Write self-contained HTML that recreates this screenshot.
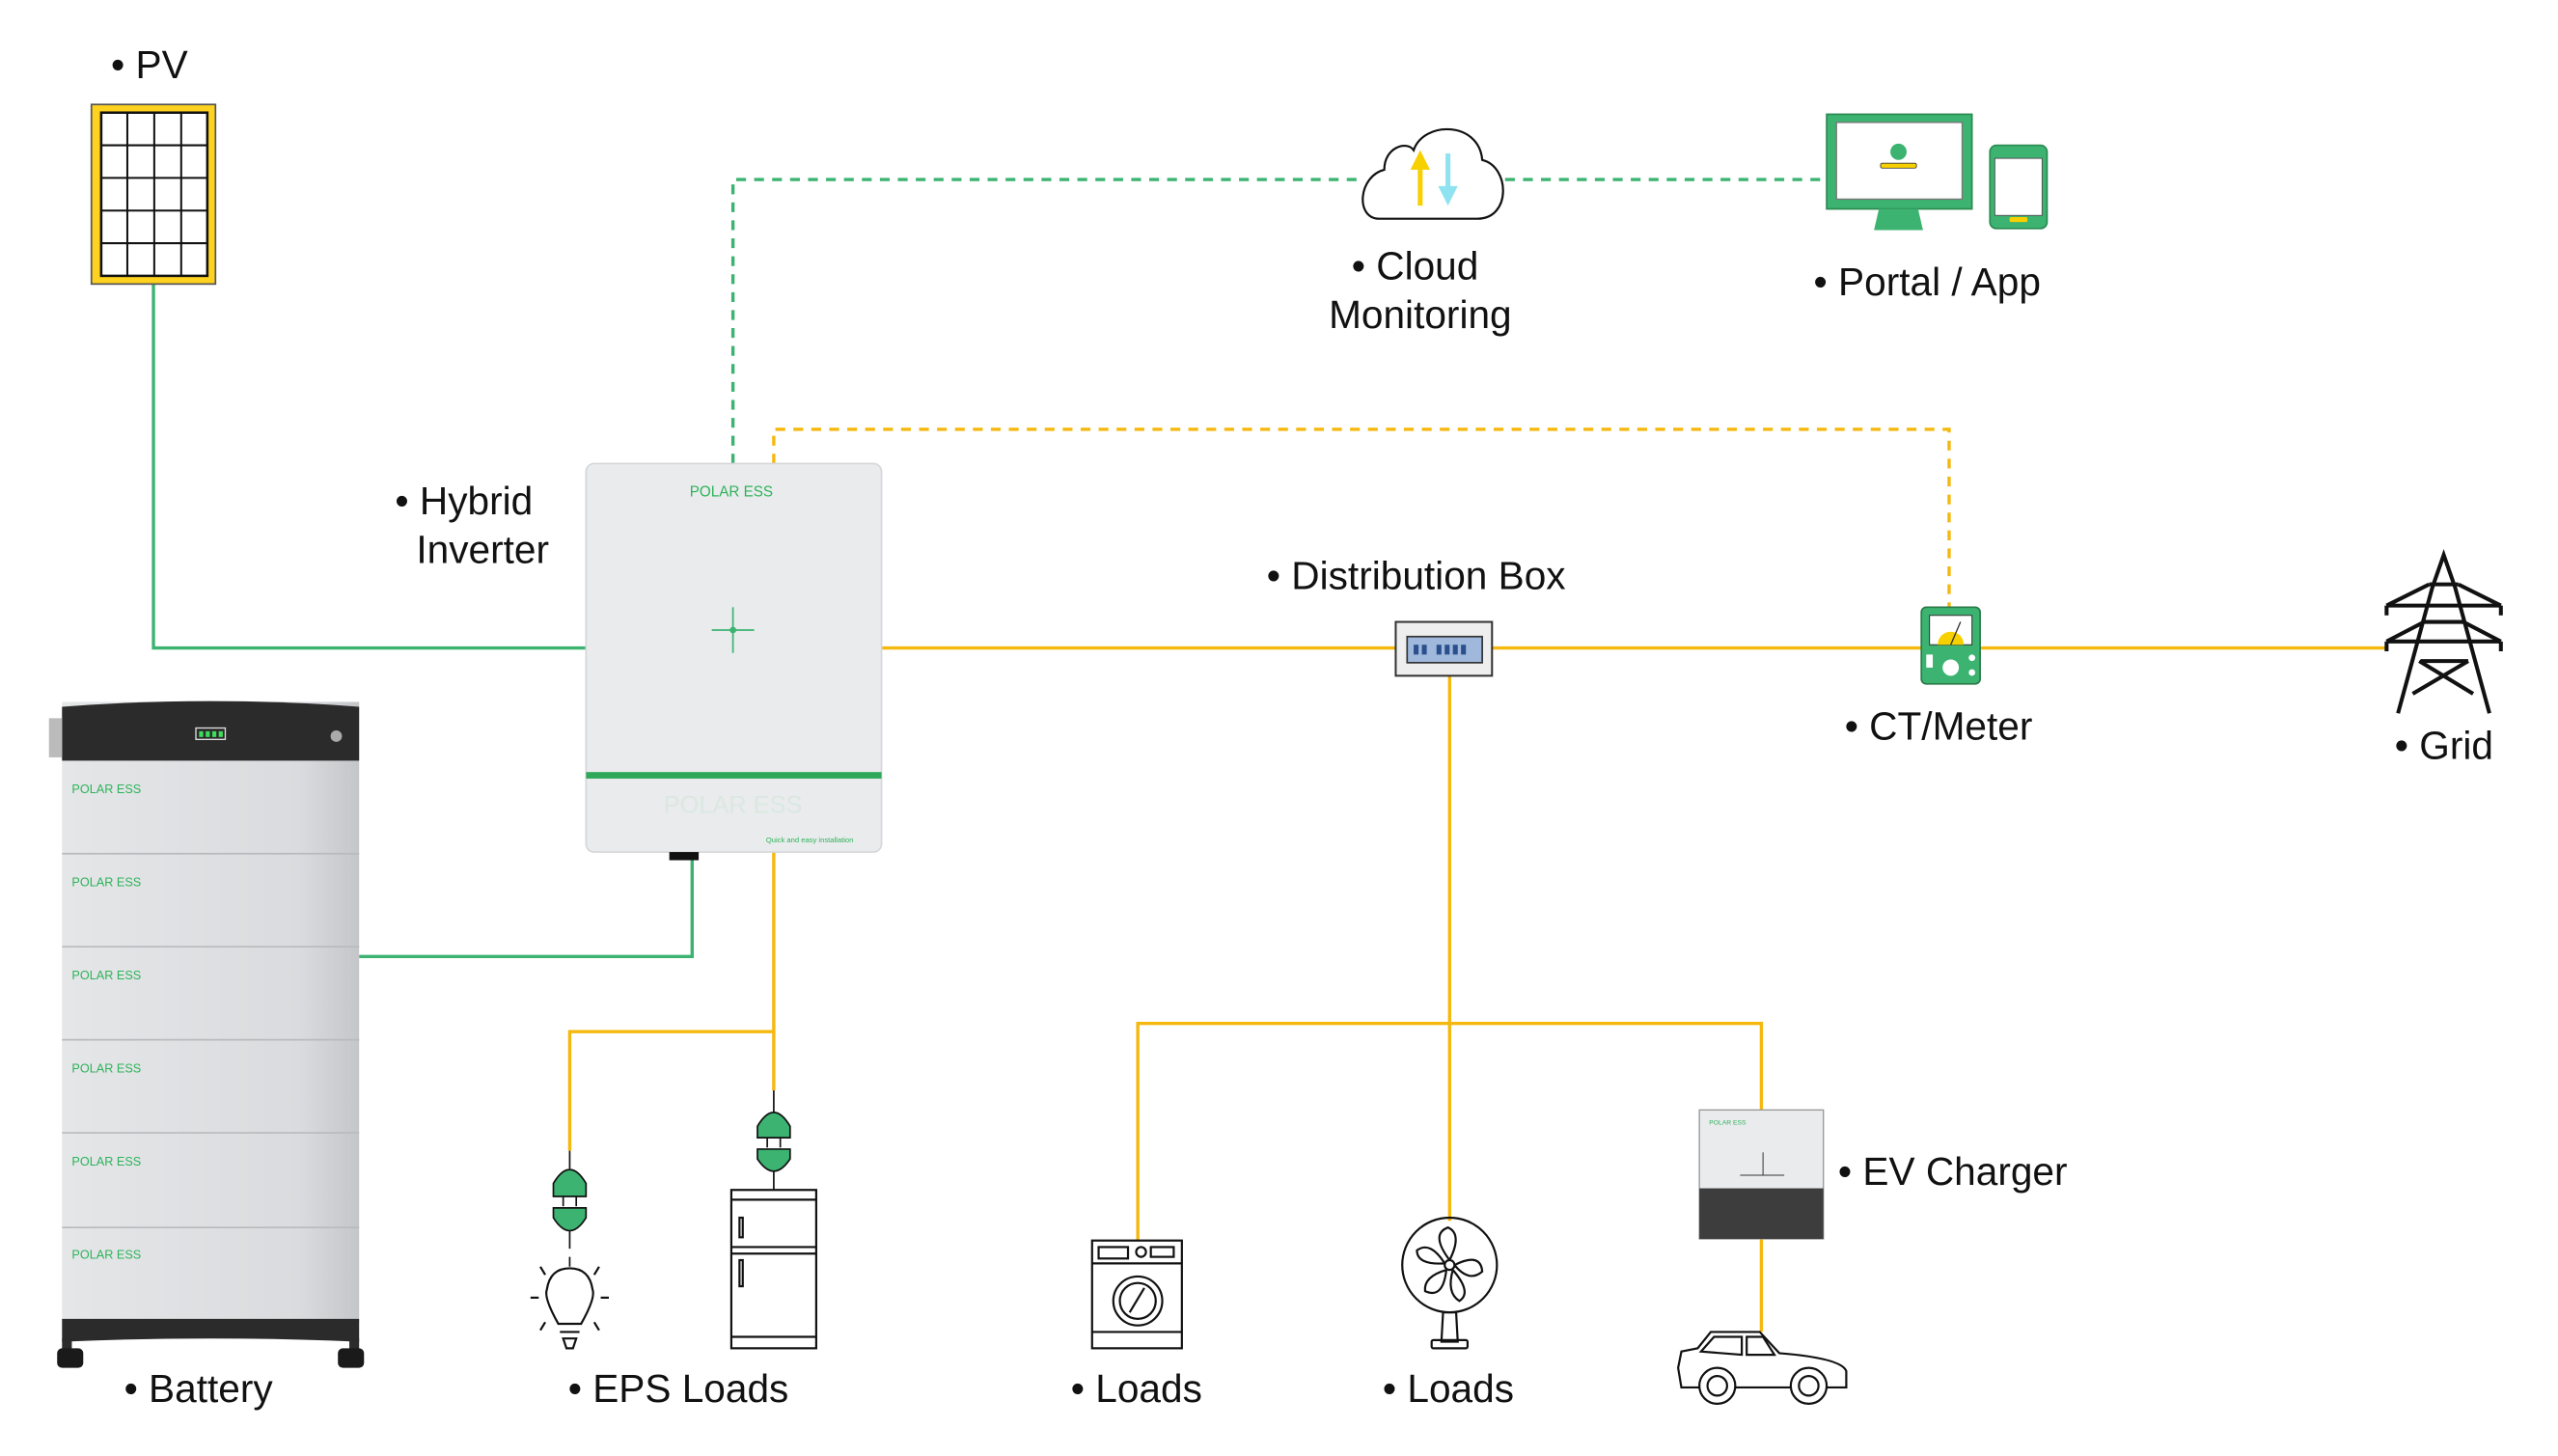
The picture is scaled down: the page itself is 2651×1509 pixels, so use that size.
<!DOCTYPE html>
<html><head><meta charset="utf-8"><style>
html,body{margin:0;padding:0;background:#fff;}
svg{display:block;}
text{font-family:"Liberation Sans",sans-serif;fill:#111;}
</style></head><body>
<svg width="2651" height="1509" viewBox="0 0 1567 892" preserveAspectRatio="none" xmlns="http://www.w3.org/2000/svg">
<defs>
<linearGradient id="bat" x1="0" x2="1"><stop offset="0" stop-color="#e4e6e8"/><stop offset="0.8" stop-color="#d9dbde"/><stop offset="1" stop-color="#c4c6c9"/></linearGradient>
</defs>
<g fill="none" stroke-width="2">
<polyline points="94,174 94,397 359,397" stroke="#3cb371"/>
<polyline points="220,586 424,586 424,527" stroke="#3cb371"/>
<polyline points="449,284 449,110 835,110" stroke="#3cb371" stroke-dasharray="6,5"/>
<line x1="922" y1="110" x2="1119" y2="110" stroke="#3cb371" stroke-dasharray="6,5"/>
<polyline points="474,284 474,263 1194,263 1194,372" stroke="#f5b80f" stroke-dasharray="6,5"/>
<line x1="540" y1="397" x2="1462" y2="397" stroke="#f5b80f"/>
<line x1="888" y1="414" x2="888" y2="748" stroke="#f5b80f"/>
<polyline points="697,760 697,627 1079,627 1079,680" stroke="#f5b80f"/>
<line x1="1079" y1="759" x2="1079" y2="816" stroke="#f5b80f"/>
<polyline points="474,522 474,632 349,632 349,705" stroke="#f5b80f"/>
<line x1="474" y1="632" x2="474" y2="668" stroke="#f5b80f"/>
</g>
<rect x="56" y="64" width="76" height="110" fill="#ffd21f" stroke="#555" stroke-width="1"/>
<rect x="62" y="69" width="65" height="100" fill="#fff" stroke="#111" stroke-width="1.5"/>
<g stroke="#111" stroke-width="1.2"><line x1="78" y1="69" x2="78" y2="169"/><line x1="94.5" y1="69" x2="94.5" y2="169"/><line x1="111" y1="69" x2="111" y2="169"/>
<line x1="62" y1="89" x2="127" y2="89"/><line x1="62" y1="109" x2="127" y2="109"/><line x1="62" y1="129" x2="127" y2="129"/><line x1="62" y1="149" x2="127" y2="149"/></g>
<text x="68" y="48" font-size="24">• PV</text>
<rect x="359" y="284" width="181" height="238" rx="5" fill="#e9ebed" stroke="#d5d7da"/>
<rect x="359" y="473" width="181" height="4" fill="#2fa85a"/>
<text x="448" y="304" font-size="9" text-anchor="middle" style="fill:#2fb35a">POLAR ESS</text>
<text x="449" y="498" font-size="15" text-anchor="middle" style="fill:#dbe8e0">POLAR ESS</text>
<text x="496" y="516" font-size="4.5" text-anchor="middle" style="fill:#2fb35a">Quick and easy installation</text>
<g stroke="#3cb371" stroke-width="1"><line x1="436" y1="386" x2="462" y2="386"/><line x1="449" y1="372" x2="449" y2="400"/></g>
<circle cx="449" cy="386" r="2" fill="#3cb371"/>
<rect x="410" y="522" width="18" height="5" fill="#111"/>
<text x="242" y="315" font-size="24">• Hybrid</text>
<text x="255" y="345" font-size="24">Inverter</text>
<path d="M845,134 C830,134 832,108 848,104 C848,90 862,86 866,92 C872,74 906,74 908,98 C925,102 926,134 905,134 Z" fill="#fff" stroke="#111" stroke-width="1.3"/>
<line x1="870" y1="126" x2="870" y2="100" stroke="#f7d000" stroke-width="3"/><polygon points="864,104 870,92 876,104" fill="#f7d000"/>
<line x1="887" y1="94" x2="887" y2="118" stroke="#8fe3f0" stroke-width="3"/><polygon points="881,114 887,126 893,114" fill="#8fe3f0"/>
<text x="828" y="171" font-size="24">• Cloud</text>
<text x="814" y="201" font-size="24">Monitoring</text>
<rect x="1119" y="70" width="89" height="58" fill="#3cb371" stroke="#2a8a50"/>
<rect x="1125" y="75" width="77" height="47" fill="#fff" stroke="#777" stroke-width="0.8"/>
<polygon points="1151,128 1175,128 1178,141 1148,141" fill="#3cb371"/>
<circle cx="1163" cy="93" r="5" fill="#3cb371"/>
<rect x="1152" y="100" width="22" height="3" rx="1" fill="#f7d000" stroke="#333" stroke-width="0.5"/>
<rect x="1219" y="89" width="35" height="51" rx="4" fill="#3cb371" stroke="#2a8a50"/>
<rect x="1222" y="97" width="29" height="35" fill="#fff" stroke="#555" stroke-width="0.6"/>
<rect x="1231" y="133" width="11" height="3" rx="1" fill="#f7d000"/>
<text x="1111" y="181" font-size="24">• Portal / App</text>
<rect x="855" y="381" width="59" height="33" fill="#eee" stroke="#333" stroke-width="1.2"/>
<rect x="862" y="390" width="46" height="16" fill="#9fb8dc" stroke="#333" stroke-width="1"/>
<g fill="#2b4f8c"><rect x="866" y="395" width="3" height="6"/><rect x="871" y="395" width="3" height="6"/><rect x="880" y="395" width="3" height="6"/><rect x="885" y="395" width="3" height="6"/><rect x="890" y="395" width="3" height="6"/><rect x="895" y="395" width="3" height="6"/></g>
<text x="776" y="361" font-size="24">• Distribution Box</text>
<rect x="1177" y="372" width="36" height="47" rx="3" fill="#3cb371" stroke="#2a7a48"/>
<rect x="1182" y="377" width="26" height="18" fill="#fff" stroke="#333" stroke-width="0.6"/>
<path d="M1187,395 A8,8 0 0 1 1203,395 Z" fill="#f7d000"/>
<line x1="1195" y1="395" x2="1201" y2="381" stroke="#333" stroke-width="0.8"/>
<circle cx="1195" cy="409" r="5" fill="#fff"/><rect x="1180" y="401" width="4" height="8" fill="#fff"/>
<circle cx="1208" cy="403" r="2" fill="#fff"/><circle cx="1208" cy="412" r="2" fill="#fff"/>
<text x="1130" y="453" font-size="24">• CT/Meter</text>
<g fill="none" stroke="#111" stroke-width="2.4">
<polyline points="1469,437 1490,360 1497,340 1504,360 1525,437"/>
<line x1="1462" y1="371" x2="1532" y2="371"/><line x1="1462" y1="371" x2="1462" y2="377"/><line x1="1532" y1="371" x2="1532" y2="377"/>
<line x1="1462" y1="393" x2="1532" y2="393"/><line x1="1462" y1="393" x2="1462" y2="399"/><line x1="1532" y1="393" x2="1532" y2="399"/>
<line x1="1462" y1="371" x2="1488" y2="358"/><line x1="1532" y1="371" x2="1506" y2="358"/>
<line x1="1462" y1="393" x2="1485" y2="381"/><line x1="1532" y1="393" x2="1509" y2="381"/>
<line x1="1488" y1="358" x2="1506" y2="358"/><line x1="1485" y1="381" x2="1509" y2="381"/>
<line x1="1482" y1="405" x2="1515" y2="425"/><line x1="1512" y1="405" x2="1478" y2="425"/><line x1="1483" y1="405" x2="1512" y2="405"/>
</g>
<text x="1467" y="465" font-size="24">• Grid</text>
<rect x="38" y="430" width="182" height="380" fill="url(#bat)"/>
<path d="M38,466 L38,433 Q129,426 220,433 L220,466 Z" fill="#2b2b2b"/>
<rect x="120" y="446" width="18" height="7" fill="none" stroke="#ddd" stroke-width="0.8"/>
<g fill="#3ddc5a"><rect x="122" y="448" width="2.5" height="3.5"/><rect x="126" y="448" width="2.5" height="3.5"/><rect x="130" y="448" width="2.5" height="3.5"/><rect x="134" y="448" width="2.5" height="3.5"/></g>
<circle cx="206" cy="451" r="3.5" fill="#aaa"/>
<rect x="30" y="440" width="8" height="24" fill="#bbb"/>
<g stroke="#b8babd" stroke-width="1"><line x1="38" y1="523" x2="220" y2="523"/><line x1="38" y1="580" x2="220" y2="580"/><line x1="38" y1="637" x2="220" y2="637"/><line x1="38" y1="694" x2="220" y2="694"/><line x1="38" y1="752" x2="220" y2="752"/></g>
<g font-size="7.5"><text x="44" y="486" style="fill:#2fb35a">POLAR ESS</text><text x="44" y="543" style="fill:#2fb35a">POLAR ESS</text><text x="44" y="600" style="fill:#2fb35a">POLAR ESS</text><text x="44" y="657" style="fill:#2fb35a">POLAR ESS</text><text x="44" y="714" style="fill:#2fb35a">POLAR ESS</text><text x="44" y="771" style="fill:#2fb35a">POLAR ESS</text></g>
<path d="M38,808 L220,808 L220,822 Q129,818 38,822 Z" fill="#2b2b2b"/>
<rect x="38" y="820" width="6" height="10" fill="#2b2b2b"/><rect x="214" y="820" width="6" height="10" fill="#2b2b2b"/>
<rect x="35" y="826" width="16" height="12" rx="3" fill="#1a1a1a"/><rect x="207" y="826" width="16" height="12" rx="3" fill="#1a1a1a"/>
<text x="76" y="859" font-size="24">• Battery</text>
<g stroke="#111" stroke-width="1">
<line x1="349" y1="705" x2="349" y2="716"/>
<path d="M339,733 L339,725 Q349,708 359,725 L359,733 Z" fill="#3cb371"/>
<line x1="345" y1="733" x2="345" y2="739"/><line x1="353" y1="733" x2="353" y2="739"/>
<path d="M339,740 L359,740 L359,746 Q349,762 339,746 Z" fill="#3cb371"/>
<line x1="349" y1="754" x2="349" y2="765"/><line x1="349" y1="770" x2="349" y2="776"/>
<line x1="474" y1="668" x2="474" y2="682"/>
<path d="M464,697 L464,690 Q474,673 484,690 L484,697 Z" fill="#3cb371"/>
<line x1="470" y1="697" x2="470" y2="703"/><line x1="478" y1="697" x2="478" y2="703"/>
<path d="M464,704 L484,704 L484,710 Q474,725 464,710 Z" fill="#3cb371"/>
<line x1="474" y1="717" x2="474" y2="729"/>
</g>
<g fill="none" stroke="#111" stroke-width="1.3">
<path d="M342,811 Q333,795 335,790 Q337,777 349,777 Q361,777 363,790 Q365,795 356,811 Z"/>
<line x1="343" y1="816" x2="355" y2="816"/><path d="M345,820 L353,820 L351,826 L347,826 Z"/>
<line x1="325" y1="795" x2="330" y2="795"/><line x1="368" y1="795" x2="373" y2="795"/>
<line x1="331" y1="776" x2="334" y2="781"/><line x1="367" y1="776" x2="364" y2="781"/>
<line x1="331" y1="815" x2="334" y2="810"/><line x1="367" y1="815" x2="364" y2="810"/>
</g>
<g fill="#fff" stroke="#111" stroke-width="1.3">
<rect x="448" y="729" width="52" height="97"/>
<line x1="448" y1="735" x2="500" y2="735"/><line x1="448" y1="764" x2="500" y2="764"/><line x1="448" y1="768" x2="500" y2="768"/><line x1="448" y1="819" x2="500" y2="819"/>
<rect x="453" y="746" width="2" height="12"/><rect x="453" y="772" width="2" height="16"/>
</g>
<text x="348" y="859" font-size="24">• EPS Loads</text>
<g fill="#fff" stroke="#111" stroke-width="1.3">
<rect x="669" y="760" width="55" height="66"/>
<line x1="669" y1="774" x2="724" y2="774"/><line x1="669" y1="816" x2="724" y2="816"/>
<rect x="673" y="764" width="18" height="7"/><circle cx="699" cy="767" r="3"/><rect x="705" y="764" width="14" height="6"/>
<circle cx="697" cy="797" r="15"/><circle cx="697" cy="797" r="11"/><line x1="692" y1="804" x2="701" y2="789"/>
</g>
<text x="656" y="859" font-size="24">• Loads</text>
<g fill="none" stroke="#111" stroke-width="1.3">
<ellipse cx="888" cy="775" rx="29" ry="29"/>
<circle cx="888" cy="775" r="3"/>
<path d="M888,772 Q876,756 887,752 Q896,756 888,772"/><path d="M891,775 Q907,767 908,779 Q900,786 891,775"/><path d="M886,778 Q884,796 873,791 Q872,782 886,778"/><path d="M885,774 Q868,775 868,766 Q876,760 885,774"/><path d="M890,778 Q902,792 894,797 Q886,792 890,778"/>
<path d="M884,804 L892,804 L893,822 L883,822 Z"/><rect x="877" y="821" width="22" height="5" rx="1"/>
</g>
<text x="847" y="859" font-size="24">• Loads</text>
<rect x="1041" y="680" width="76" height="79" fill="#e9ebed" stroke="#999" stroke-width="0.8"/>
<rect x="1041" y="728" width="76" height="31" fill="#3d3d3d"/>
<text x="1047" y="689" font-size="4" style="fill:#2fb35a">POLAR ESS</text>
<g stroke="#333" stroke-width="0.6"><line x1="1080" y1="706" x2="1080" y2="720"/><line x1="1066" y1="720" x2="1093" y2="720"/></g>
<text x="1126" y="726" font-size="24">• EV Charger</text>
<g fill="#fff" stroke="#111" stroke-width="1.3">
<path d="M1030,850 L1028,838 L1030,828 L1040,826 L1048,816 L1078,816 L1090,829 Q1128,832 1131,840 L1131,850 Z"/>
<path d="M1042,828 L1050,819 L1067,819 L1067,830 Z"/><path d="M1070,819 L1080,819 L1087,830 L1070,830 Z"/>
<circle cx="1052" cy="849" r="11"/><circle cx="1052" cy="849" r="6"/>
<circle cx="1108" cy="849" r="11"/><circle cx="1108" cy="849" r="6"/>
</g>
</svg>
</body></html>
